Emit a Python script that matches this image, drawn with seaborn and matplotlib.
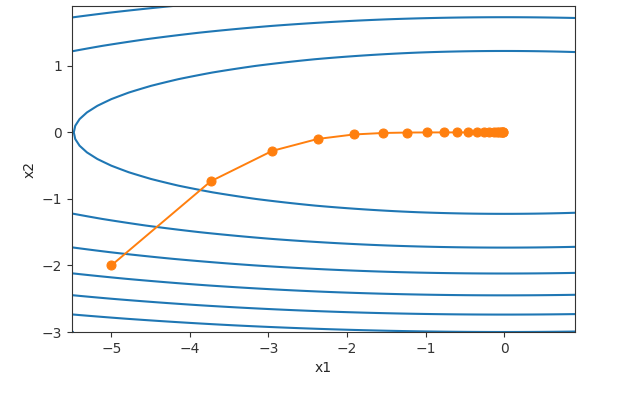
import numpy as np
import pandas as pd
import matplotlib
matplotlib.use("Agg")
import matplotlib.pyplot as plt
import seaborn as sns

# Trajectory points (x1, x2)
x1_path = [-5.0, -3.735, -2.953, -2.373, -1.915, -1.543, -1.236, -0.983, -0.773,
           -0.601, -0.461, -0.348, -0.258, -0.188, -0.134, -0.094, -0.064,
           -0.043, -0.028, -0.017, -0.011]
x2_path = [-2.0, -0.735, -0.278, -0.098, -0.031, -0.0087, -0.0021, -0.0004, -0.0001,
           0.0, 0.0, 0.0, 0.0, 0.0, 0.0, 0.0, 0.0, 0.0, 0.0, 0.0, 0.0]

# Objective surface coefficients: f = a*x1^2 + b*x2^2
coef_x1 = 0.1
coef_x2 = 2.0

sns.set_style("ticks")
plt.rcParams["font.family"] = ["DejaVu Sans"]

fig = plt.figure(figsize=(6.25, 3.93), dpi=100)
ax = fig.add_axes([72/625, 61/393, (575-72)/625, (332-6)/393])

g1, g2 = np.meshgrid(np.arange(-5.5, 1.0, 0.1), np.arange(-3.0, 2.0, 0.1))
ax.contour(g1, g2, coef_x1 * g1**2 + coef_x2 * g2**2, colors="#1f77b4",
           linewidths=1.5)

df = pd.DataFrame({"x1": x1_path, "x2": x2_path})
sns.lineplot(data=df, x="x1", y="x2", sort=False, marker="o", color="#ff7f0e",
             markeredgecolor="#ff7f0e", markersize=6.5, linewidth=1.4, ax=ax)

ax.set_xlim(-5.5, 0.9)
ax.set_ylim(-3.0, 1.9)
ax.set_xticks([-5, -4, -3, -2, -1, 0])
ax.set_yticks([-3, -2, -1, 0, 1])
ax.set_xlabel("x1")
ax.set_ylabel("x2")
for s in ax.spines.values():
    s.set_visible(True)
    s.set_color("#333333")
ax.tick_params(labelsize=10, colors="#333333")

fig.savefig("out.png", dpi=100)
